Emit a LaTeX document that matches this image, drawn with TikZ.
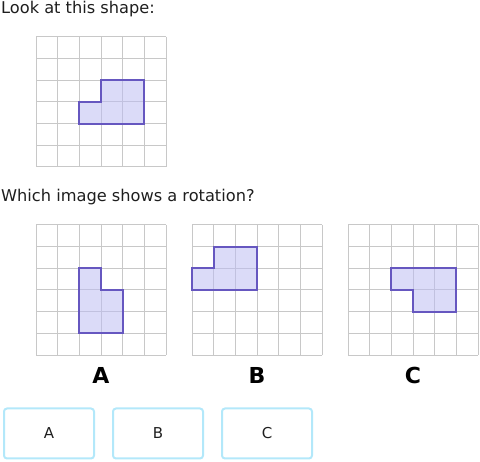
\documentclass[tikz,border=0pt]{standalone}
\usepackage{fontspec}
\setmainfont{DejaVu Sans}
\usepackage{xcolor}

\definecolor{gridgray}{HTML}{C8C8C8}
\definecolor{shapeline}{HTML}{6657C0}
\definecolor{shapefill}{HTML}{BDBDF3}
\definecolor{btnline}{HTML}{B3E8FA}
\definecolor{txt}{HTML}{1E1E1E}

\begin{document}
\begin{tikzpicture}[x=1pt,y=-1pt,
  gridline/.style={draw=gridgray, line width=1pt},
  shapeedge/.style={draw=shapeline, fill=shapefill, fill opacity=0.55, draw opacity=1, line width=2pt},
  question/.style={anchor=base west, inner sep=0pt, text=txt, font=\fontsize{16.2}{18}\selectfont},
  letter/.style={font=\fontsize{22}{24}\selectfont\bfseries, text=black},
  answer/.style={draw=btnline, line width=2pt, rounded corners=3pt, minimum width=90pt, minimum height=50pt, text=txt, font=\fontsize{15}{17}\selectfont}]
\useasboundingbox (0,0) rectangle (480,462);

\node[question] (look) at (1,14) {Look at this shape:};

% the shape
\begin{scope}[shift={(36,37)}, x=21.667pt, y=-21.667pt]
\foreach \i in {0,...,6} {
  \draw[gridline] (\i,0) -- (\i,6);
  \draw[gridline] (0,\i) -- (6,\i);
}
\draw[shapeedge] (2,3) -- (3,3) -- (3,2) -- (5,2) -- (5,4) -- (2,4) -- cycle;
\end{scope}

\node[question] (which) at (1,202) {Which image shows a rotation?};

% A
\begin{scope}[shift={(36,225)}, x=21.667pt, y=-21.667pt]
\foreach \i in {0,...,6} {
  \draw[gridline] (\i,0) -- (\i,6);
  \draw[gridline] (0,\i) -- (6,\i);
}
\draw[shapeedge] (2,2) -- (3,2) -- (3,3) -- (4,3) -- (4,5) -- (2,5) -- cycle;
\end{scope}

% B
\begin{scope}[shift={(192,225)}, x=21.667pt, y=-21.667pt]
\foreach \i in {0,...,6} {
  \draw[gridline] (\i,0) -- (\i,6);
  \draw[gridline] (0,\i) -- (6,\i);
}
\draw[shapeedge] (0,2) -- (1,2) -- (1,1) -- (3,1) -- (3,3) -- (0,3) -- cycle;
\end{scope}

% C
\begin{scope}[shift={(348,225)}, x=21.667pt, y=-21.667pt]
\foreach \i in {0,...,6} {
  \draw[gridline] (\i,0) -- (\i,6);
  \draw[gridline] (0,\i) -- (6,\i);
}
\draw[shapeedge] (2,2) -- (5,2) -- (5,4) -- (3,4) -- (3,3) -- (2,3) -- cycle;
\end{scope}

\node[letter] (labA) at (101,375) {A};
\node[letter] (labB) at (257,375) {B};
\node[letter] (labC) at (413,375) {C};

\node[answer] (ansA) at (49,433.5) {A};
\node[answer] (ansB) at (158,433.5) {B};
\node[answer] (ansC) at (267,433.5) {C};
\end{tikzpicture}
\end{document}
